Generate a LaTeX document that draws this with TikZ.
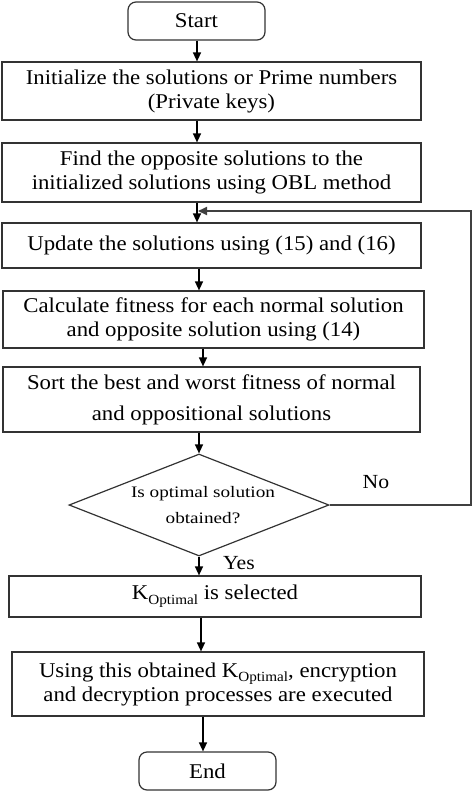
\documentclass[tikz,border=0pt]{standalone}
\usepackage{fontspec}
\setmainfont[FakeStretch=1.085]{Liberation Serif}
\newfontfamily\widefont[FakeStretch=1.2]{Liberation Serif}
\usetikzlibrary{shapes.geometric,arrows.meta,positioning}
\newcommand{\Kopt}{K\raisebox{-0.22em}{\fontsize{14}{14}\selectfont Optimal}}
\begin{document}
\begin{tikzpicture}[x=1pt,y=-1pt,
  boxst/.style={draw=black!80,line width=1.2pt,inner sep=0pt,align=center,font=\fontsize{21}{24}\selectfont},
  termst/.style={boxst,rounded corners=8pt},
  arr/.style={-{Triangle[length=9pt,width=8pt]},line width=1.4pt,black},
  lbl/.style={font=\fontsize{20}{22}\selectfont,inner sep=0pt}]
\useasboundingbox (0,0) rectangle (474,793);
\node[termst,minimum width=137pt,minimum height=38pt] (start) at (196.5,21) {Start};
\node[boxst,minimum width=419pt,minimum height=58pt] (b1) at (211.5,91) {Initialize the solutions or Prime numbers\\(Private keys)};
\node[boxst,minimum width=419pt,minimum height=59pt] (b2) at (211.5,172.5) {Find the opposite solutions to the\\initialized solutions using OBL method};
\node[boxst,minimum width=419pt,minimum height=45pt] (b3) at (211.5,245.5) {Update the solutions using (15) and (16)};
\node[boxst,minimum width=421pt,minimum height=57pt] (b4) at (213.5,319.5) {Calculate fitness for each normal solution\\and opposite solution using (14)};
\node[boxst,minimum width=417pt,minimum height=65pt,font=\fontsize{21}{31}\selectfont] (b5) at (211.5,399.5) {Sort the best and worst fitness of normal\\and oppositional solutions};
\node[diamond,draw=black!80,line width=1.2pt,minimum width=260pt,minimum height=102pt,inner sep=0pt] (dec) at (199,505) {};
\node[align=center,font=\widefont\fontsize{16}{26}\selectfont,inner sep=0pt] (dectext) at (203,505) {Is optimal solution\\obtained?};
\node[boxst,minimum width=412pt,minimum height=41pt] (b6) at (215,596.5) {\Kopt{} is selected};
\node[boxst,minimum width=412pt,minimum height=64pt] (b7) at (218,684) {Using this obtained \Kopt, encryption\\and decryption processes are executed};
\node[termst,minimum width=137pt,minimum height=38pt] (end) at (207.5,771) {End};
\node[lbl] (no) at (376,482) {No};
\node[lbl] (yes) at (239,563) {Yes};
\coordinate (c197) at (197,0);
\coordinate (c199) at (199,0);
\coordinate (c201) at (201,0);
\coordinate (c203) at (203,0);
\coordinate (fb) at (471,0);
\coordinate (join) at (198,211);
\draw[arr] (start.south -| c197) -- (b1.north -| c197);
\draw[arr] (b1.south -| c197) -- (b2.north -| c197);
\draw[arr] (b2.south -| c197) -- (b3.north -| c197);
\draw[arr] (b3.south -| c199) -- (b4.north -| c199);
\draw[arr] (b4.south -| c203) -- (b5.north -| c203);
\draw[arr] (b5.south -| c199) -- (dec.north);
\draw[arr] (dec.south) -- (b6.north -| c199);
\draw[arr] (b6.south -| c201) -- (b7.north -| c201);
\draw[arr] (b7.south -| c203) -- (end.north -| c203);
\draw[arr,draw=black!75,line width=1.8pt] (dec.east) -- (dec.east -| fb) -- (fb |- join) -- (join);
\end{tikzpicture}
\end{document}
